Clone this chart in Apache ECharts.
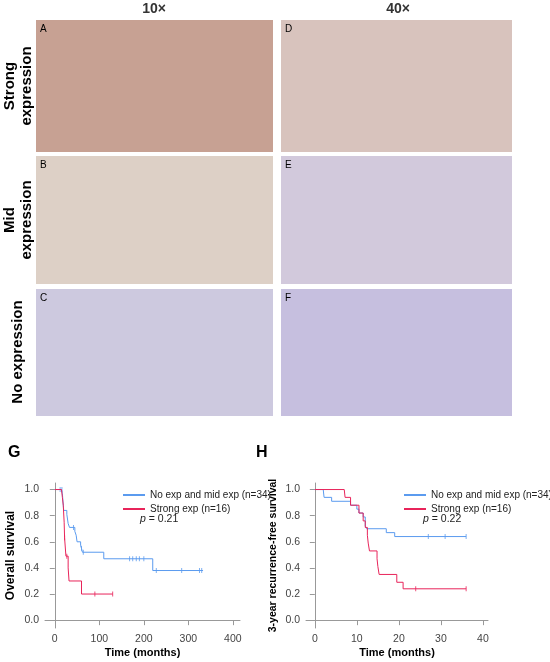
<!DOCTYPE html>
<html><head><meta charset="utf-8">
<script src="https://cdn.jsdelivr.net/npm/echarts@6/dist/echarts.min.js"></script>
<style>html,body{margin:0;padding:0;background:#fff}#c{width:550px;height:662px}</style>
</head><body><div id="c"></div>
<script>
// Overall survival (G)
const gBlue = [[0,1],[15,1],[17,0.97],[20,0.84],[27,0.81],[30,0.74],[33,0.71],[45,0.68],[48,0.65],[50,0.60],[58,0.57],[60,0.55],[62,0.52],[110,0.47],[220,0.38],[333,0.38]];
const gBlueCens = [[12,1],[16,1],[42,0.71],[60,0.55],[64,0.52],[168,0.47],[175,0.47],[183,0.47],[190,0.47],[200,0.47],[228,0.38],[285,0.38],[325,0.38],[330,0.38]];
const gRed = [[0,1],[15,1],[17,0.94],[19,0.88],[21,0.75],[22,0.63],[25,0.49],[30,0.40],[32,0.30],[60,0.20],[130,0.20]];
const gRedCens = [[22,0.63],[27,0.49],[90,0.20],[130,0.20]];
// 3-year recurrence-free survival (H)
const hBlue = [[0,1],[2,1],[2.2,0.94],[4,0.91],[8.5,0.88],[10,0.85],[10.5,0.82],[11.5,0.79],[12,0.72],[12.3,0.70],[17,0.67],[19,0.64],[36,0.64]];
const hBlueCens = [[27,0.64],[31,0.64],[36,0.64]];
const hRed = [[0,1],[7,1],[7.2,0.94],[8.5,0.88],[10.5,0.82],[11.5,0.76],[12,0.71],[12.5,0.65],[12.7,0.59],[13,0.53],[14.8,0.47],[15,0.41],[15.3,0.35],[19.5,0.29],[21,0.24],[36,0.24]];
const hRedCens = [[24,0.24],[36,0.24]];
const yTicks = [0,0.2,0.4,0.6,0.8,1.0];
const gXTicks = [0,100,200,300,400];
const hXTicks = [0,10,20,30,40];
const blue = '#5b9bef', red = '#e8245a';
const panels = [
 {l:'A',x:36,y:20,w:237,h:132,c:'#c7a193'},{l:'D',x:281,y:20,w:231,h:132,c:'#d8c3bd'},
 {l:'B',x:36,y:156,w:237,h:128,c:'#ddd0c6'},{l:'E',x:281,y:156,w:231,h:128,c:'#d2c9dc'},
 {l:'C',x:36,y:289,w:237,h:127,c:'#cdc9df'},{l:'F',x:281,y:289,w:231,h:127,c:'#c6bfdf'}];
const chart = echarts.init(document.getElementById('c'));
const g = [];
panels.forEach(p=>{
 g.push({type:'rect',shape:{x:p.x,y:p.y,width:p.w,height:p.h},style:{fill:p.c}});
 g.push({type:'text',x:p.x+4,y:p.y+4,style:{text:p.l,fill:'#000',font:'10px Liberation Sans'}});
});
g.push({type:'text',x:154,y:2,style:{text:'10×',font:'bold 14px Liberation Sans',fill:'#333',align:'center'}});
g.push({type:'text',x:398,y:2,style:{text:'40×',font:'bold 14px Liberation Sans',fill:'#333',align:'center'}});
[['Strong\nexpression',86],['Mid\nexpression',220],['No expression',352]].forEach(([t,y])=>{
 g.push({type:'text',x:18,y:y,rotation:Math.PI/2,style:{text:t,font:'bold 15px Liberation Sans',fill:'#000',align:'center',verticalAlign:'middle',lineHeight:17}});
});
g.push({type:'text',x:8,y:445,style:{text:'G',font:'bold 16px Liberation Sans',fill:'#000'}});
g.push({type:'text',x:256,y:445,style:{text:'H',font:'bold 16px Liberation Sans',fill:'#000'}});
const rt={i:{fontStyle:'italic',fontSize:10.5,fontFamily:'Liberation Sans',fill:'#222'},n:{fontSize:10.5,fontFamily:'Liberation Sans',fill:'#222'}};
g.push({type:'text',x:140,y:514,style:{rich:rt,text:'{i|p}{n| = 0.21}'}});
g.push({type:'text',x:423,y:514,style:{rich:rt,text:'{i|p}{n| = 0.22}'}});
const ax = {axisLine:{lineStyle:{color:'#999'}},axisLabel:{color:'#444',fontSize:10.5,fontFamily:'Liberation Sans'},splitLine:{show:false}};
function yA(i){return Object.assign({},ax,{gridIndex:i,type:'value',min:-0.06,max:1.05,axisTick:{customValues:yTicks,lineStyle:{color:'#999'}},axisLabel:Object.assign({},ax.axisLabel,{customValues:yTicks,margin:6,formatter:v=>v.toFixed(1)})});}
function xA(i,mn,mx,t){return Object.assign({},ax,{gridIndex:i,type:'value',min:mn,max:mx,name:'Time (months)',nameLocation:'middle',nameGap:19,nameTextStyle:{fontWeight:'bold',fontSize:11,fontFamily:'Liberation Sans',color:'#000'},axisTick:{customValues:t,lineStyle:{color:'#999'}},axisLabel:Object.assign({},ax.axisLabel,{customValues:t,margin:6})});}
const line=(n,d,c,i)=>({name:n,type:'line',step:'end',data:d,xAxisIndex:i,yAxisIndex:i,symbol:'none',lineStyle:{color:c,width:1},itemStyle:{color:c}});
const cens=(n,d,c,i)=>({name:n,type:'scatter',data:d,xAxisIndex:i,yAxisIndex:i,symbol:'rect',symbolSize:[1,5],itemStyle:{color:c}});
const lg=(l)=>({left:l,top:485,orient:'vertical',itemGap:4,itemWidth:22,itemHeight:2,icon:'rect',textStyle:{fontSize:10,fontFamily:'Liberation Sans',color:'#222'},data:[{name:'No exp and mid exp (n=34)',itemStyle:{color:blue}},{name:'Strong exp (n=16)',itemStyle:{color:red}}]});
chart.setOption({
 animation:false,
 graphic:g,
 grid:[{left:45,top:483,width:195,height:145},{left:306,top:483,width:182,height:145}],
 xAxis:[xA(0,-22,416,gXTicks),xA(1,-2.1,41.2,hXTicks)],
 yAxis:[Object.assign(yA(0),{name:'Overall survival',nameLocation:'middle',nameGap:28,nameTextStyle:{fontWeight:'bold',fontSize:12,fontFamily:'Liberation Sans',color:'#000'}}),
        Object.assign(yA(1),{name:'3-year recurrence-free survival',nameLocation:'middle',nameGap:27,nameTextStyle:{fontWeight:'bold',fontSize:10.5,fontFamily:'Liberation Sans',color:'#000'}})],
 legend:[lg(118),lg(399)],
 series:[line('No exp and mid exp (n=34)',gBlue,blue,0),line('Strong exp (n=16)',gRed,red,0),cens('gbc',gBlueCens,blue,0),cens('grc',gRedCens,red,0),
         line('No exp and mid exp (n=34)',hBlue,blue,1),line('Strong exp (n=16)',hRed,red,1),cens('hbc',hBlueCens,blue,1),cens('hrc',hRedCens,red,1)]
});
</script></body></html>
